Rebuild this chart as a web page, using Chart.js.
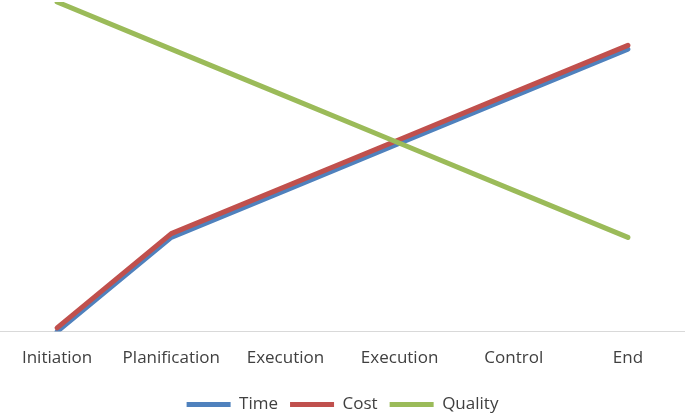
<!DOCTYPE html>
<html lang="en">
<head>
    <meta charset="UTF-8">
    <script src="https://cdn.jsdelivr.net/npm/chart.js"></script>
    <title>Time Cost Quality</title>
    <style>
        html, body { margin: 0; padding: 0; background: #ffffff; }
        #wrap { width: 685px; height: 416px; }
    </style>
</head>
<body>
    <div id="wrap">
        <canvas id="grafico"></canvas>
    </div>

    <script>
        const fases = ['Initiation', 'Planification', 'Execution', 'Execution', 'Control', 'End'];
        const tiempo = [0, 2, 3, 4, 5, 6];
        const costo = [0.08, 2.08, 3.08, 4.08, 5.08, 6.08];
        const calidad = [7, 6, 5, 4, 3, 2];

        const fuente = "'Open Sans', sans-serif";

        function serie(nombre, datos, color, orden) {
            return {
                label: nombre,
                data: datos,
                borderColor: color,
                backgroundColor: color,
                borderWidth: 5,
                borderCapStyle: 'round',
                borderJoinStyle: 'round',
                pointRadius: 0,
                pointHoverRadius: 0,
                tension: 0,
                order: orden
            };
        }

        new Chart(document.getElementById('grafico'), {
            type: 'line',
            data: {
                labels: fases,
                datasets: [
                    serie('Time', tiempo, '#4F81BD', 2),
                    serie('Cost', costo, '#C0504D', 1),
                    serie('Quality', calidad, '#9BBB59', 0)
                ]
            },
            options: {
                responsive: true,
                maintainAspectRatio: false,
                animation: false,
                // el fondo negativo baja la leyenda hasta donde esta en el original
                layout: { padding: { top: 2, left: 0, right: 0, bottom: -7 } },
                scales: {
                    x: {
                        offset: true,
                        grid: { display: false, drawTicks: false },
                        border: { display: true, color: '#d9d9d9', width: 1 },
                        ticks: {
                            color: '#404040',
                            padding: 16,
                            maxRotation: 0,
                            autoSkip: false,
                            font: { family: fuente, size: 17 }
                        }
                    },
                    y: {
                        display: false,
                        min: 0,
                        max: 7
                    }
                },
                plugins: {
                    tooltip: { enabled: false },
                    legend: {
                        position: 'bottom',
                        labels: {
                            usePointStyle: true,
                            pointStyle: 'line',
                            pointStyleWidth: 44,
                            color: '#404040',
                            padding: 12,
                            font: { family: fuente, size: 17 },
                            sort: (a, b) => a.datasetIndex - b.datasetIndex
                        }
                    }
                }
            }
        });
    </script>
</body>
</html>
